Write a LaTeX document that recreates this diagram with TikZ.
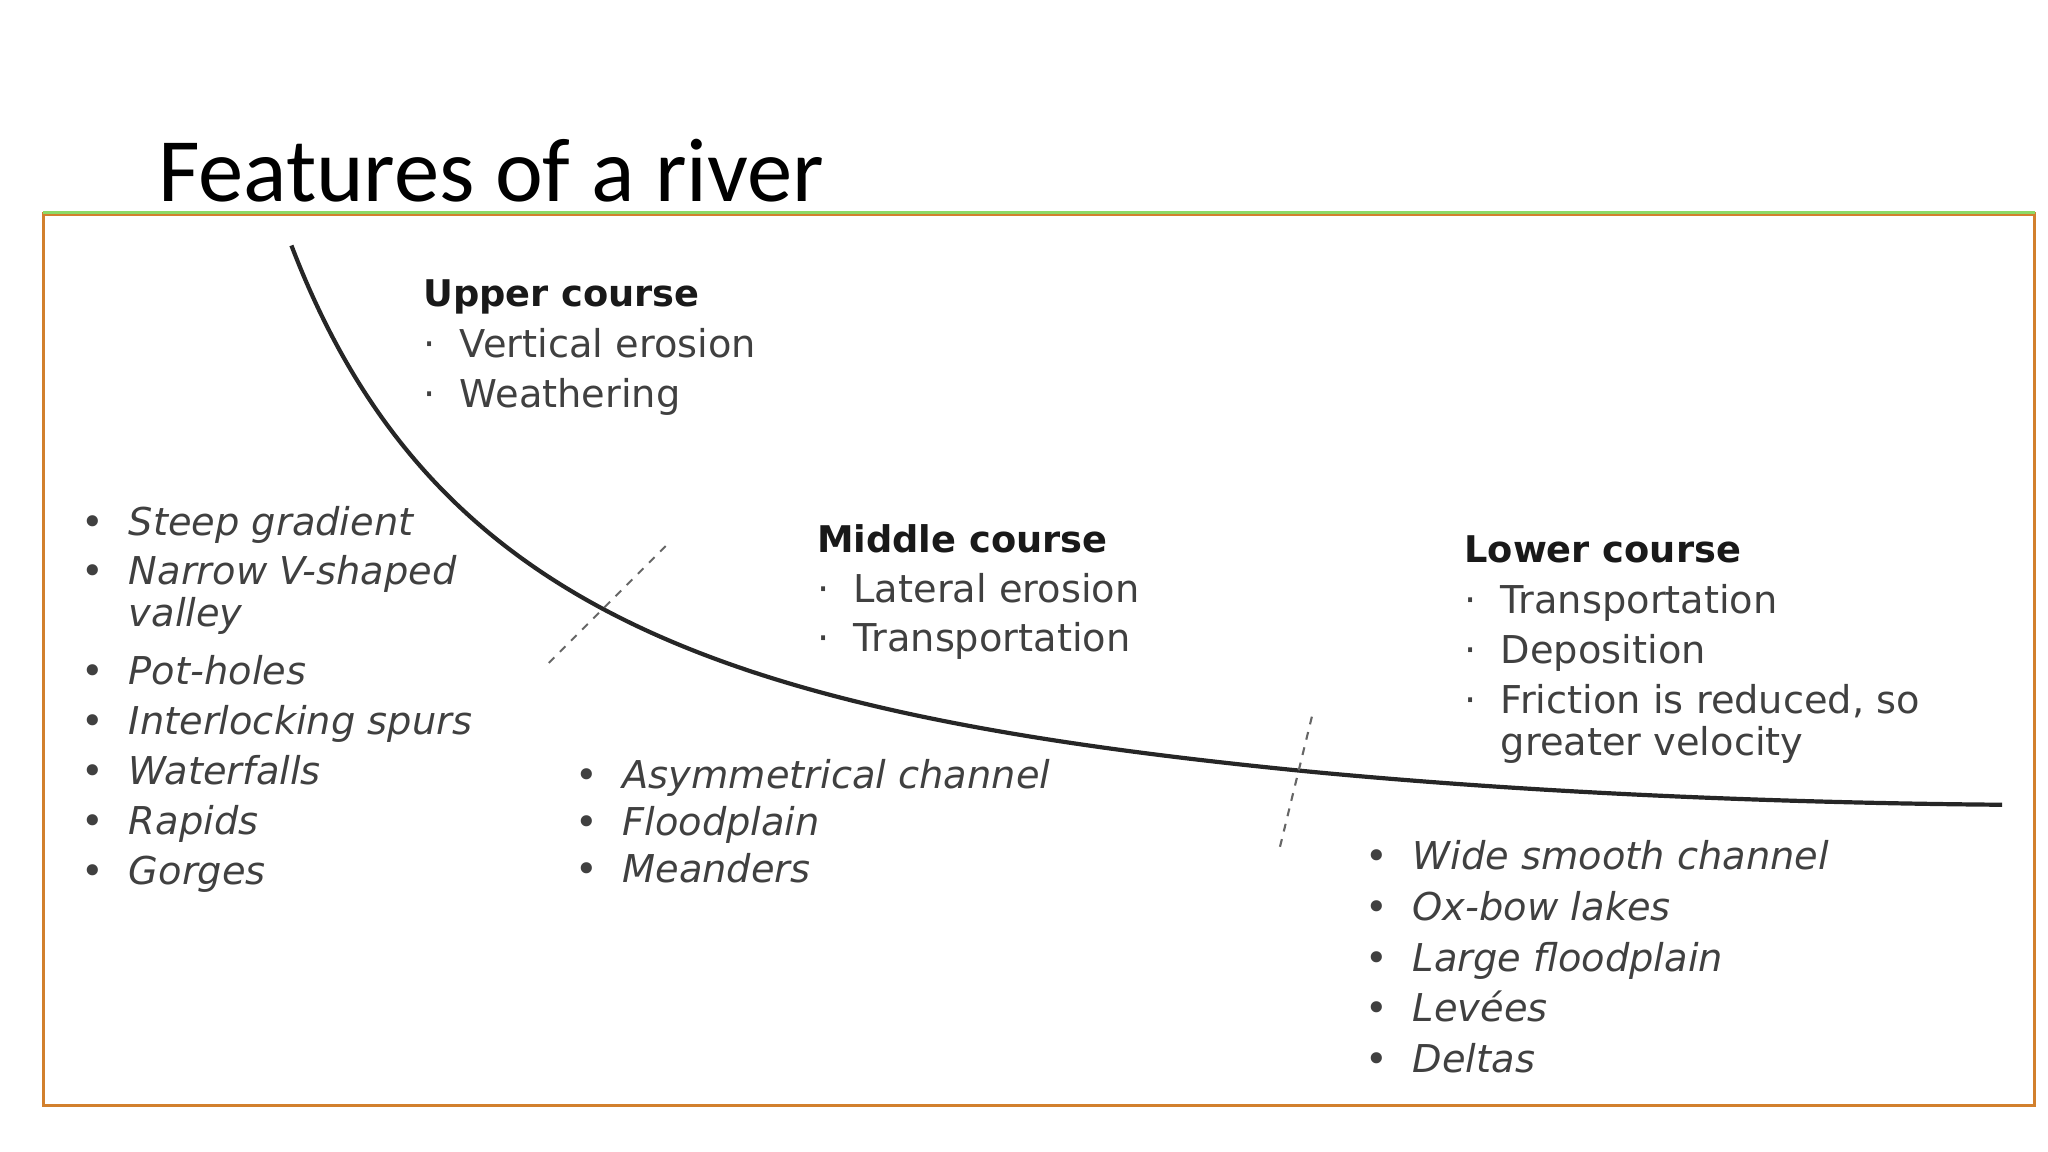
\documentclass[tikz,border=0pt]{standalone}
\usepackage{fontspec}
\setmainfont{DejaVu Sans}
\newfontfamily\titlefont{Carlito}
\begin{document}
\begin{tikzpicture}[x=0.5pt,y=-0.5pt,
  txt/.style={anchor=north west,inner sep=0pt,align=left,text=black!75,font=\fontsize{14.6}{19}\selectfont},
  hd/.style={anchor=north west,inner sep=0pt,font=\bfseries\fontsize{14}{19}\selectfont,text=black!90},
  sep/.style={dashed,black!60,line width=0.8pt}]
\useasboundingbox (0,0) rectangle (1560,877);
\node[anchor=west,inner sep=0pt,font=\titlefont\fontsize{34.5}{38}\selectfont] (title) at (120,130) {Features of a river};
\draw[draw=brown!70!orange,line width=1.2pt] (33,163) rectangle (1550,842);
\draw[green!50!olive!60,line width=1pt] (33,162) -- (1550,162);
\draw[black!85,line width=1.6pt] (222,187) .. controls (330,470) and (560,545) .. (1000,588) .. controls (1200,607) and (1400,612) .. (1525,613);
\draw[sep] (418,505) -- (510,413);
\draw[sep] (975,645) -- (1000,543);
\node[hd] (uh) at (322,213) {Upper course};
\node[txt] (ub) at (322,250) {·\ \ Vertical erosion\\·\ \ Weathering};
\node[hd] (mh) at (622,399) {Middle course};
\node[txt] (mb) at (622,436) {·\ \ Lateral erosion\\·\ \ Transportation};
\node[hd] (lh) at (1115,408) {Lower course};
\node[txt,font=\fontsize{14.6}{16}\selectfont] (lb) at (1115,445) {·\ \ Transportation\\[3pt]·\ \ Deposition\\[3pt]·\ \ Friction is reduced, so\\\phantom{·\ \ }greater velocity};
\node[txt,font=\itshape\fontsize{14.6}{19}\selectfont] (uf) at (62,385) {•\ \ Steep gradient\\•\ \ Narrow V-shaped\\[-3pt]\phantom{•\ \ }valley\\[3pt]•\ \ Pot-holes\\•\ \ Interlocking spurs\\•\ \ Waterfalls\\•\ \ Rapids\\•\ \ Gorges};
\node[txt,font=\itshape\fontsize{14.6}{18}\selectfont] (mf) at (438,578) {•\ \ Asymmetrical channel\\•\ \ Floodplain\\•\ \ Meanders};
\node[txt,font=\itshape\fontsize{14.6}{19.3}\selectfont] (lf) at (1040,640) {•\ \ Wide smooth channel\\•\ \ Ox-bow lakes\\•\ \ Large floodplain\\•\ \ Levées\\•\ \ Deltas};
\end{tikzpicture}
\end{document}
